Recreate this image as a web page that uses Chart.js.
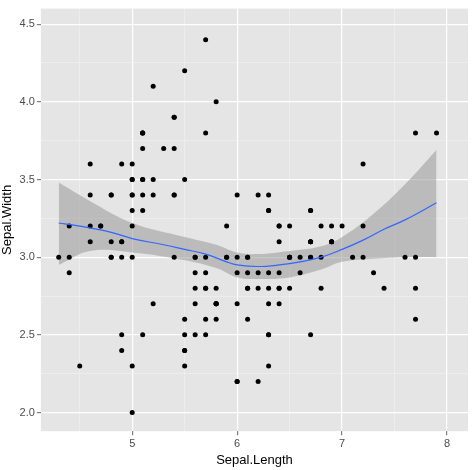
<!DOCTYPE html>
<html><head><script src="https://cdn.jsdelivr.net/npm/chart.js@4"></script>
<style>body{margin:0;background:#fff}#w{width:474px;height:470px}</style></head>
<body><div id="w"><canvas id="c"></canvas></div>
<script>
const sepalLength=[5.1,4.9,4.7,4.6,5.0,5.4,4.6,5.0,4.4,4.9,5.4,4.8,4.8,4.3,5.8,5.7,5.4,5.1,5.7,5.1,5.4,5.1,4.6,5.1,4.8,5.0,5.0,5.2,5.2,4.7,4.8,5.4,5.2,5.5,4.9,5.0,5.5,4.9,4.4,5.1,5.0,4.5,4.4,5.0,5.1,4.8,5.1,4.6,5.3,5.0,
7.0,6.4,6.9,5.5,6.5,5.7,6.3,4.9,6.6,5.2,5.0,5.9,6.0,6.1,5.6,6.7,5.6,5.8,6.2,5.6,5.9,6.1,6.3,6.1,6.4,6.6,6.8,6.7,6.0,5.7,5.5,5.5,5.8,6.0,5.4,6.0,6.7,6.3,5.6,5.5,5.5,6.1,5.8,5.0,5.6,5.7,5.7,6.2,5.1,5.7,
6.3,5.8,7.1,6.3,6.5,7.6,4.9,7.3,6.7,7.2,6.5,6.4,6.8,5.7,5.8,6.4,6.5,7.7,7.7,6.0,6.9,5.6,7.7,6.3,6.7,7.2,6.2,6.1,6.4,7.2,7.4,7.9,6.4,6.3,6.1,7.7,6.3,6.4,6.0,6.9,6.7,6.9,5.8,6.8,6.7,6.7,6.3,6.5,6.2,5.9];
const sepalWidth=[3.5,3.0,3.2,3.1,3.6,3.9,3.4,3.4,2.9,3.1,3.7,3.4,3.0,3.0,4.0,4.4,3.9,3.5,3.8,3.8,3.4,3.7,3.6,3.3,3.4,3.0,3.4,3.5,3.4,3.2,3.1,3.4,4.1,4.2,3.1,3.2,3.5,3.6,3.0,3.4,3.5,2.3,3.2,3.5,3.8,3.0,3.8,3.2,3.7,3.3,
3.2,3.2,3.1,2.3,2.8,2.8,3.3,2.4,2.9,2.7,2.0,3.0,2.2,2.9,2.9,3.1,3.0,2.7,2.2,2.5,3.2,2.8,2.5,2.8,2.9,3.0,2.8,3.0,2.9,2.6,2.4,2.4,2.7,2.7,3.0,3.4,3.1,2.3,3.0,2.5,2.6,3.0,2.6,2.3,2.7,3.0,2.9,2.9,2.5,2.8,
3.3,2.7,3.0,2.9,3.0,3.0,2.5,2.9,2.5,3.6,3.2,2.7,3.0,2.5,2.8,3.2,3.0,3.8,2.6,2.2,3.2,2.8,2.8,2.7,3.3,3.2,2.8,3.0,2.8,3.0,2.8,3.8,2.8,2.8,2.6,3.0,3.4,3.1,3.0,3.1,3.1,3.1,2.7,3.2,3.3,3.0,2.5,3.0,3.4,3.0];
const fitX=[4.3,4.5,4.8,5.0,5.3,5.5,5.7,5.9,6.0,6.2,6.4,6.6,6.8,7.0,7.2,7.4,7.6,7.9];
const fitY=[3.22,3.20,3.16,3.12,3.08,3.05,3.02,2.97,2.95,2.94,2.95,2.97,3.00,3.05,3.11,3.18,3.24,3.35];
const bandX=[4.3,4.6,5.0,5.5,5.8,6.0,6.2,6.5,6.8,7.0,7.3,7.6,7.9];
const bandHi=[3.48,3.36,3.22,3.13,3.08,3.03,3.02,3.04,3.07,3.13,3.28,3.47,3.69];
const bandLo=[2.95,3.04,3.03,2.98,2.93,2.87,2.86,2.87,2.92,2.97,2.99,3.00,3.00];
const xTicks=[4.5,5,5.5,6,6.5,7,7.5,8];
const yTicks=[2,2.25,2.5,2.75,3,3.25,3.5,3.75,4,4.25,4.5];
const half=v=>Math.abs(v*2-Math.round(v*2))<1e-6;
const bg={id:'bg',beforeDraw(ch){const a=ch.chartArea,c=ch.ctx;c.save();c.fillStyle='#E5E5E5';c.fillRect(a.left,a.top,a.right-a.left,a.bottom-a.top);c.restore();}};
new Chart(document.getElementById('c'),{
 data:{datasets:[
  {type:'line',data:bandX.map((x,i)=>({x,y:bandHi[i]})),borderWidth:0,pointRadius:0,backgroundColor:'rgba(153,153,153,0.55)',fill:'+1',tension:0.4,order:3},
  {type:'line',data:bandX.map((x,i)=>({x,y:bandLo[i]})),borderWidth:0,pointRadius:0,fill:false,tension:0.4,order:3},
  {type:'scatter',data:sepalLength.map((x,i)=>({x,y:sepalWidth[i]})),pointRadius:2.5,backgroundColor:'#000',borderWidth:0,order:2},
  {type:'line',data:fitX.map((x,i)=>({x,y:fitY[i]})),borderColor:'#3366FF',borderWidth:1.2,pointRadius:0,fill:false,tension:0.4,order:1}
 ]},
 options:{responsive:true,maintainAspectRatio:false,animation:false,
  layout:{padding:{top:5,right:6}},
  plugins:{legend:{display:false},tooltip:{enabled:false}},
  scales:{
   x:{type:'linear',min:4.13,max:8.2,border:{display:false},
    afterBuildTicks:s=>{s.ticks=xTicks.map(v=>({value:v}))},
    grid:{color:c=>Number.isInteger(c.tick.value)?'#FFFFFF':'#F2F2F2',lineWidth:c=>Number.isInteger(c.tick.value)?1.2:0.6,tickLength:4,tickColor:c=>Number.isInteger(c.tick.value)?'#7F7F7F':'rgba(0,0,0,0)'},
    ticks:{autoSkip:false,maxRotation:0,color:'#4D4D4D',font:{family:'Liberation Sans',size:11},padding:2,callback:v=>Number.isInteger(v)?String(v):''},
    title:{display:true,text:'Sepal.Length',color:'#000',font:{family:'Liberation Sans',size:13},padding:{top:0,bottom:2}}},
   y:{type:'linear',min:1.88,max:4.6,border:{display:false},
    afterBuildTicks:s=>{s.ticks=yTicks.map(v=>({value:v}))},
    grid:{color:c=>half(c.tick.value)?'#FFFFFF':'#F2F2F2',lineWidth:c=>half(c.tick.value)?1.2:0.6,tickLength:4,tickColor:c=>half(c.tick.value)?'#7F7F7F':'rgba(0,0,0,0)'},
    ticks:{autoSkip:false,color:'#4D4D4D',font:{family:'Liberation Sans',size:11},padding:2,callback:v=>half(v)?v.toFixed(1):''},
    title:{display:true,text:'Sepal.Width',color:'#000',font:{family:'Liberation Sans',size:13},padding:{top:0,bottom:2}}}
  }}
 ,plugins:[bg]});
</script></body></html>
